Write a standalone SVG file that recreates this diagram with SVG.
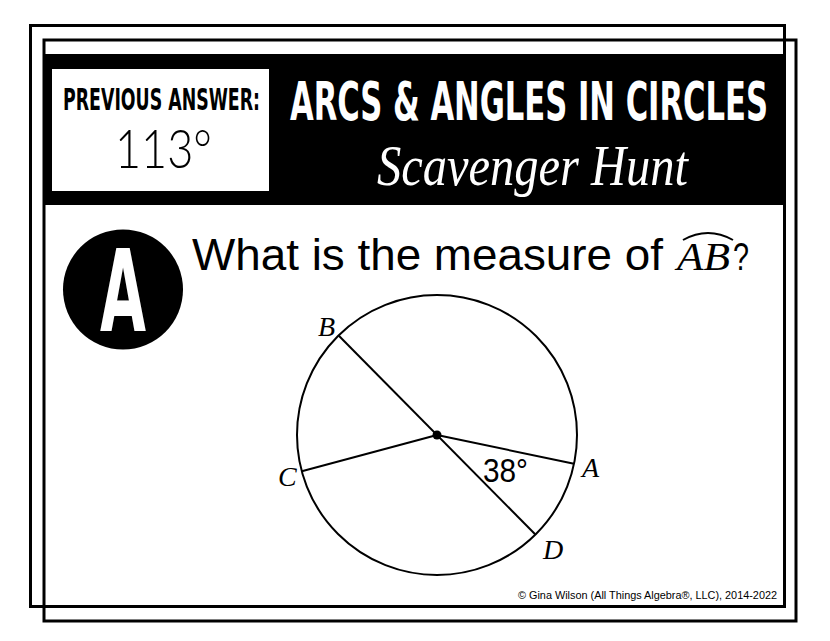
<svg xmlns="http://www.w3.org/2000/svg" width="830" height="641" viewBox="0 0 830 641">
<style>
.frame{fill:none;stroke:#000;stroke-width:3}
.cond{font-family:"DejaVu Sans Condensed","Liberation Sans Narrow","Liberation Sans",sans-serif;font-weight:bold}
.sans{font-family:"Liberation Sans",Arial,sans-serif}
.light{font-family:Lato,"Liberation Sans",sans-serif;font-weight:300}
.pt{font-family:"Liberation Serif","Times New Roman",serif;font-style:italic;font-size:28px;fill:#000}
.ln{stroke:#000;stroke-width:2;fill:none}
</style>
<rect width="830" height="641" fill="#fff"/>
<g id="frames">
<rect class="frame" x="30.5" y="25.5" width="754" height="581"/>
<rect class="frame" x="44" y="40" width="752" height="581"/>
</g>
<g id="header">
<rect x="44" y="54" width="739" height="151" fill="#000"/>
<rect x="52" y="69" width="217" height="122" fill="#fff"/>
<text class="cond" transform="translate(63,110) scale(1,1.68)" x="0" y="0" font-size="18.4" textLength="197" lengthAdjust="spacingAndGlyphs">PREVIOUS ANSWER:</text>
<text class="light" x="115" y="168" font-size="54" textLength="97" lengthAdjust="spacingAndGlyphs">113°</text>
<text class="cond" transform="translate(290,120) scale(1,1.73)" x="0" y="0" font-size="31" fill="#fff" textLength="478" lengthAdjust="spacingAndGlyphs">ARCS &amp; ANGLES IN CIRCLES</text>
<text x="377" y="185" font-family="Liberation Serif,serif" font-style="italic" font-size="56" fill="#fff" textLength="311" lengthAdjust="spacingAndGlyphs">Scavenger Hunt</text>
</g>
<g id="badge">
<circle cx="123" cy="289.5" r="60" fill="#000"/>
<text class="cond" transform="translate(100,331) scale(1,1.70)" x="0" y="0" font-size="67" fill="#fff" textLength="46" lengthAdjust="spacingAndGlyphs">A</text>
</g>
<g id="question">
<text class="sans" x="192" y="270" font-size="44" textLength="471" lengthAdjust="spacingAndGlyphs">What is the measure of</text>
<text x="677" y="270" font-family="Liberation Serif,serif" font-style="italic" font-size="40" textLength="53" lengthAdjust="spacingAndGlyphs">AB</text>
<path class="ln" d="M683,240 Q708,226 733,240" stroke-width="1.8"/>
<text class="sans" x="733" y="270" font-size="38" textLength="16" lengthAdjust="spacingAndGlyphs">?</text>
</g>
<g id="circle-diagram">
<circle class="ln" cx="437" cy="435" r="140"/>
<circle cx="437" cy="435" r="4.5" fill="#000"/>
</g>
<g id="connectors">
<line class="ln" x1="338.6" y1="335.5" x2="535.4" y2="534.5"/>
<line class="ln" x1="437" y1="435" x2="301.8" y2="471.3"/>
<line class="ln" x1="437" y1="435" x2="574" y2="463.8"/>
</g>
<g id="labels">
<text class="pt" x="318" y="336">B</text>
<text class="pt" x="278" y="486">C</text>
<text class="pt" x="582" y="477">A</text>
<text class="pt" x="543" y="559">D</text>
<text class="sans" x="483" y="482" font-size="33" textLength="45" lengthAdjust="spacingAndGlyphs">38°</text>
</g>
<g id="copyright">
<text class="sans" x="518" y="599" font-size="11" textLength="259" lengthAdjust="spacingAndGlyphs">© Gina Wilson (All Things Algebra®, LLC), 2014-2022</text>
</g>
</svg>
